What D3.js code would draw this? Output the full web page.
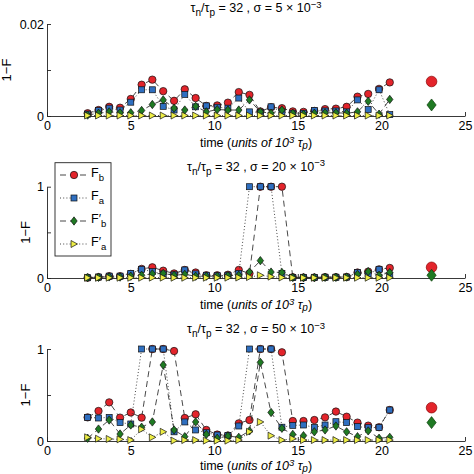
<!DOCTYPE html>
<html><head><meta charset="utf-8">
<script src="https://cdn.jsdelivr.net/npm/d3@7"></script>
<style>body{margin:0;background:#fff} text{font-family:"Liberation Sans",Arial,Helvetica,sans-serif;fill:#000}</style>
</head><body><svg id="c" width="474" height="474"></svg>
<script>
// ---- data ----
const times = [2.43,3.08,3.72,4.37,5.01,5.66,6.3,6.95,7.6,8.24,8.89,9.53,10.18,10.82,11.47,12.11,12.76,13.4,14.05,14.7,15.34,15.99,16.63,17.28,17.92,18.57,19.21,19.86,20.5];
const steadyTime = 23;
const xTicks = [0,5,10,15,20,25];
const sigmaLabels = ["5","20","50"];
const yMax = [0.02, 1, 1];
const yTickLabels = [["0","","0.02"],["0","","1"],["0","","1"]];

// sigma = 5e-3
const Fb_5  = [0.0006,0.0013,0.002,0.0018,0.0037,0.0068,0.0079,0.0054,0.0033,0.0058,0.0039,0.0022,0.0023,0.0029,0.0052,0.0046,0.001,0.0019,0.0017,0.001,0.0009,0.0011,0.0015,0.0016,0.002,0.0042,0.0048,0.0059,0.0073];
const Fa_5  = [0.0004,0.0012,0.0017,0.0013,0.003,0.0057,0.0057,0.0021,0.0013,0.0047,0.002,0.0022,0.0019,0.0017,0.0039,0.0009,0.0008,0.002,0.0009,0.0006,0.0006,0.0012,0.0011,0.0011,0.0009,0.0035,0.0014,0.0057,0.0003];
const Fpb_5 = [0.0002,0.0006,0.0009,0.0007,0.0007,0.0012,0.0025,0.0035,0.0017,0.0013,0.0021,0.0009,0.0014,0.0013,0.0013,0.0035,0.0009,0.0006,0.0013,0.0006,0.0004,0.0006,0.0007,0.0007,0.0006,0.0009,0.0032,0.0004,0.0036];
const Fpa_5 = [0.0001,0.0001,0.0001,0.0001,0.0001,0.0001,0.0001,0.0001,0.0001,0.0001,0.0001,0.0001,0.0001,0.0001,0.0001,0.0001,0.0001,0.0001,0.0001,0.0001,0.0001,0.0001,0.0001,0.0001,0.0001,0.0001,0.0001,0.0001,0.0001];
// sigma = 20e-3
const Fb_20  = [0.004,0.01,0.02,0.02,0.045,0.1,0.117,0.08,0.05,0.088,0.06,0.03,0.03,0.036,0.088,0.05,1,1,1,0.008,0.006,0.006,0.01,0.01,0.012,0.06,0.07,0.095,0.11];
const Fa_20  = [0.003,0.01,0.02,0.02,0.05,0.095,0.07,0.045,0.035,0.088,0.045,0.03,0.025,0.03,0.05,1,1,1,0.05,0.005,0.006,0.006,0.008,0.008,0.01,0.06,0.045,0.095,0.03];
const Fpb_20 = [0.004,0.008,0.012,0.01,0.02,0.03,0.045,0.05,0.03,0.04,0.02,0.02,0.02,0.025,0.03,0.065,0.19,0.065,0.06,0.007,0.005,0.005,0.008,0.008,0.01,0.04,0.07,0.03,0.06];
const Fpa_20 = [0.002,0.002,0.003,0.003,0.003,0.003,0.004,0.004,0.003,0.003,0.003,0.003,0.003,0.004,0.005,0.01,0.03,0.015,0.005,0.003,0.002,0.002,0.002,0.002,0.003,0.003,0.003,0.003,0.003];
// sigma = 50e-3
const Fb_50  = [0.257,0.326,0.42,0.254,0.31,0.254,1,1,0.978,0.25,0.29,0.12,0.07,0.06,0.192,0.228,1,1,0.964,0.217,0.217,0.228,0.257,0.32,0.264,0.2,0.167,0.15,0.337];
const Fa_50  = [0.257,0.25,0.257,0.2,0.185,1,1,1,0.1,0.207,0.12,0.09,0.065,0.06,0.163,1,1,1,0.15,0.17,0.174,0.148,0.174,0.21,0.2,0.156,0.145,0.148,0.337];
const Fpb_50 = [0.03,0.13,0.228,0.076,0.174,0.15,0.207,0.826,0.12,0.047,0.207,0.072,0.03,0.054,0.04,0.11,0.855,0.31,0.138,0.072,0.058,0.1,0.12,0.163,0.1,0.047,0.11,0.03,0.04];
const Fpa_50 = [0.04,0.025,0.022,0.018,0.01,0.127,0.04,0.1,0.004,0.01,0.01,0.004,0.004,0.004,0.01,0.1,0.207,0.058,0.01,0.025,0.01,0.01,0.01,0.01,0.01,0.01,0.01,0.01,0.01];
// steady-state values at t = 23
const steadyFb = [0.0075, 0.117, 0.362];
const steadyFpb = [0.0024, 0.03, 0.2];

const seriesNames = ["b","a","b","a"];
const seriesPrime = [false,false,true,true];

// ---- layout ----
const svg = d3.select("#c");
const L = 47, R = 465;
const panelBox = [[24,116],[186.7,278],[349,441]];
const titleY = [12, 170.7, 333];
const xlabY = [147, 309, 470];
const ylabX = [11, 30, 30];
const x = d3.scaleLinear().domain([0,25]).range([L,R]);

const colors = ["#e3242b","#2f6fc0","#1f7a23","#eded45"];
const dashes = ["6,4","1,2.2","6,4","1,2.2"];

const diamond = (s)=>`M0,${-s*1.3}L${s},0L0,${s*1.3}L${-s},0Z`;
const triRight = (s)=>`M${-s*0.85},${-s}L${s},0L${-s*0.85},${s}Z`;
function drawMarker(g, k, cx, cy, big){
  const c = colors[k];
  if(k===0) g.append("circle").attr("cx",cx).attr("cy",cy).attr("r",big?5.3:3.7)
      .attr("fill",c).attr("stroke",big?"#8a0000":"#111").attr("stroke-width",0.7);
  else if(k===1) g.append("rect").attr("x",cx-3).attr("y",cy-3).attr("width",6).attr("height",6)
      .attr("fill",c).attr("stroke","#111").attr("stroke-width",0.7);
  else if(k===2) g.append("path").attr("d",diamond(big?4.6:3.2)).attr("transform",`translate(${cx},${cy})`)
      .attr("fill",c).attr("stroke",big?"#0b3d0b":"#111").attr("stroke-width",0.7);
  else g.append("path").attr("d",triRight(3.5)).attr("transform",`translate(${cx},${cy})`)
      .attr("fill",c).attr("stroke","#111").attr("stroke-width",0.7);
}

const panelData = [
  [Fb_5,Fa_5,Fpb_5,Fpa_5],
  [Fb_20,Fa_20,Fpb_20,Fpa_20],
  [Fb_50,Fa_50,Fpb_50,Fpa_50]
];

panelData.forEach((series, p)=>{
  const [top,bottom] = panelBox[p];
  const y = d3.scaleLinear().domain([0,yMax[p]]).range([bottom,top]);
  const g = svg.append("g");

  // axes
  const xa = d3.axisBottom(x).tickValues(xTicks).tickSizeInner(-4).tickSizeOuter(0).tickPadding(5)
      .tickFormat(d3.format("d"));
  const gx = g.append("g").attr("transform",`translate(0,${bottom})`).call(xa);
  const yTicks = [0, yMax[p]/2, yMax[p]];
  const ya = d3.axisLeft(y).tickValues(yTicks).tickSizeInner(-4).tickSizeOuter(0).tickPadding(3)
      .tickFormat((d,i)=>yTickLabels[p][i]);
  const gy = g.append("g").attr("transform",`translate(${L},0)`).call(ya);
  [gx,gy].forEach(a=>{
    a.selectAll("path,line").attr("stroke","#222").attr("stroke-width",0.9);
    a.selectAll("text").attr("font-size",12.5).attr("font-family",'"Liberation Sans",Arial,sans-serif').attr("fill","#000");
  });
  gx.selectAll(".tick text").attr("dy","0.75em");

  // title
  const t = g.append("text").attr("x",(L+R)/2).attr("y",titleY[p]).attr("text-anchor","middle").attr("font-size",12.5);
  t.append("tspan").text("τ");
  t.append("tspan").attr("dy",4).attr("font-size",10).text("n");
  t.append("tspan").attr("dy",-4).text("/τ");
  t.append("tspan").attr("dy",4).attr("font-size",10).text("p");
  t.append("tspan").attr("dy",-4).text(" = 32 , σ = "+sigmaLabels[p]+" × 10");
  t.append("tspan").attr("dy",-4.5).attr("font-size",9.5).text("−3");

  // x label
  const xl = g.append("text").attr("x",(L+R)/2).attr("y",xlabY[p]).attr("text-anchor","middle").attr("font-size",12.5);
  xl.append("tspan").text("time (");
  xl.append("tspan").attr("font-style","italic").text("units of 10");
  xl.append("tspan").attr("font-style","italic").attr("dy",-4).attr("font-size",9.5).text("3");
  xl.append("tspan").attr("font-style","italic").attr("dy",4).text(" τ");
  xl.append("tspan").attr("font-style","italic").attr("dy",2).attr("font-size",10).text("p");
  xl.append("tspan").attr("dy",-2).text(")");

  // y label
  g.append("text").attr("transform",`translate(${ylabX[p]},${(top+bottom)/2}) rotate(-90)`)
    .attr("text-anchor","middle").attr("font-size",13).text("1−F");

  // series
  series.forEach((vals,k)=>{
    const line = d3.line().x((d,i)=>x(times[i])).y(d=>y(d));
    g.append("path").datum(vals).attr("d",line).attr("fill","none")
      .attr("stroke","#333").attr("stroke-width",0.9).attr("stroke-dasharray",dashes[k]);
    vals.forEach((v,i)=>drawMarker(g,k,x(times[i]),y(v),false));
  });
  // steady-state markers
  drawMarker(g,0,x(steadyTime),y(steadyFb[p]),true);
  drawMarker(g,2,x(steadyTime),y(steadyFpb[p]),true);

  // legend in second panel
  if(p===1){
    const lg = svg.append("g");
    lg.append("rect").attr("x",55).attr("y",162.7).attr("width",56).attr("height",93.3)
      .attr("fill","#fff").attr("stroke","#222").attr("stroke-width",0.9);
    const ly = [175,198,221,244];
    seriesNames.forEach((nm,k)=>{
      lg.append("line").attr("x1",60).attr("x2",87).attr("y1",ly[k]).attr("y2",ly[k])
        .attr("stroke","#333").attr("stroke-width",0.9).attr("stroke-dasharray",dashes[k]);
      drawMarker(lg,k,74,ly[k],false);
      const tx = lg.append("text").attr("x",91).attr("y",ly[k]+2).attr("font-size",12.5);
      tx.append("tspan").text(seriesPrime[k]?"F′":"F");
      tx.append("tspan").attr("dy",4).attr("font-size",9.5).text(nm);
    });
  }
});
</script></body></html>
